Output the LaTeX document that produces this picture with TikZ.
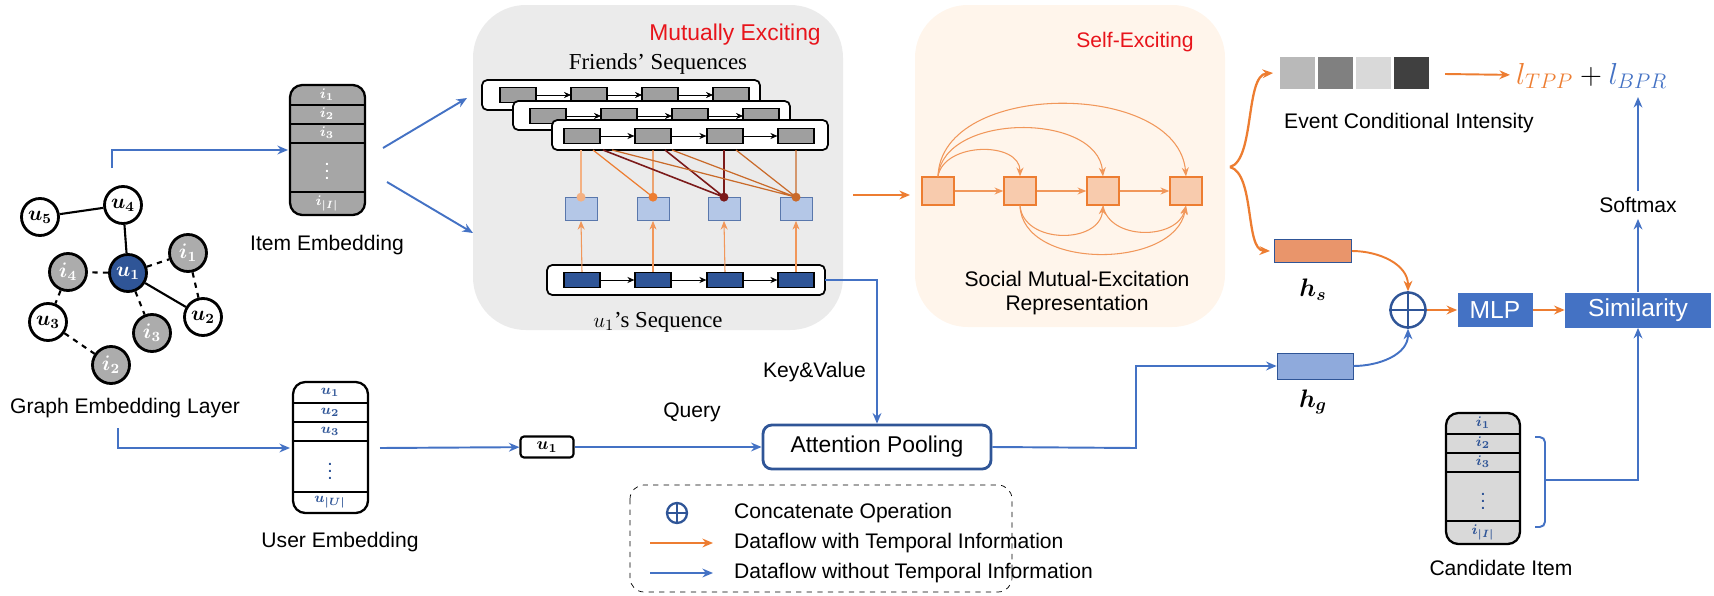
\documentclass[tikz,border=0pt]{standalone}
\usepackage{amsmath,bm}
\usepackage{fontspec}
\setmainfont{Liberation Sans}
\newfontfamily\timesf{Liberation Serif}
\usetikzlibrary{arrows.meta,decorations.pathreplacing,calc}
\definecolor{cblue}{HTML}{4472C4}
\definecolor{corange}{HTML}{ED7D31}
\definecolor{dblue}{HTML}{2F5597}
\definecolor{lblue}{HTML}{B4C7E7}
\definecolor{mblue}{HTML}{8FAADC}
\definecolor{lorange}{HTML}{F8CBAD}
\definecolor{hsfill}{HTML}{E9956B}
\definecolor{dred}{HTML}{7B1A1A}
\definecolor{titlered}{HTML}{E8141B}
\begin{document}
\begin{tikzpicture}[x=0.02cm,y=-0.02cm,
  lbl/.style={font=\fontsize{12}{14}\selectfont},
  times/.style={font=\fontsize{13}{15}\selectfont\timesf},
  gnode/.style={circle,draw,line width=1.6pt,minimum size=0.74cm,inner sep=0pt,font=\large},
  gwhite/.style={gnode,fill=white},
  ggray/.style={gnode,fill=gray!65,text=white},
  gblue/.style={gnode,fill=dblue,text=white},
  barr/.style={draw=cblue,line width=1.1pt,-{Stealth[length=6pt,width=5pt]}},
  oarr/.style={draw=corange,line width=1.1pt,-{Stealth[length=6pt,width=5pt]}},
  thin o/.style={draw=corange!80,line width=0.6pt,-{Stealth[length=5pt,width=4pt]}},
  seqbox/.style={draw,line width=1pt,rounded corners=3pt,fill=white},
  cell/.style={draw,line width=0.7pt,minimum width=0.72cm,minimum height=0.3cm,inner sep=0pt},
  lsq/.style={draw=dblue!80,fill=lblue,minimum width=0.64cm,minimum height=0.46cm,inner sep=0pt},
  osq/.style={draw=corange,line width=0.8pt,fill=lorange,minimum width=0.64cm,minimum height=0.56cm,inner sep=0pt},
  sarr/.style={line width=0.5pt,-{Stealth[length=4pt,width=3.5pt]}},
  rowtxt/.style={font=\footnotesize,inner sep=0pt}
]
\useasboundingbox (0,0) rectangle (1714,595);

% ---------- graph embedding layer
\node[gwhite] (u5) at (40,217) {$\bm{u_5}$};
\node[gwhite] (u4) at (123,205) {$\bm{u_4}$};
\node[gblue] (u1) at (128,273) {$\bm{u_1}$};
\node[ggray] (i1) at (188,253) {$\bm{i_1}$};
\node[ggray] (i4) at (68,272) {$\bm{i_4}$};
\node[gwhite] (u3) at (48,322) {$\bm{u_3}$};
\node[ggray] (i3) at (152,333) {$\bm{i_3}$};
\node[gwhite] (u2) at (203,317) {$\bm{u_2}$};
\node[ggray] (i2) at (111,365) {$\bm{i_2}$};
\draw[line width=1.2pt] (u5) -- (u4) (u4) -- (u1) (u1) -- (u2);
\draw[line width=1.2pt,dashed] (u1) -- (i1) (u1) -- (i4) (u1) -- (i3) (i1) -- (u2) (i4) -- (u3) (u3) -- (i2);
\node[lbl] (glabel) at (125,408) {Graph Embedding Layer};

% ---------- item embedding
\draw[line width=1.3pt,fill=gray!70,rounded corners=7pt] (290,85) rectangle (365,215);
\draw[line width=1.2pt] (290,105) -- (365,105) (290,124) -- (365,124) (290,143) -- (365,143) (290,192) -- (365,192);
\foreach \y/\t in {95/i_1,114/i_2,133/i_3,203/i_{|I|}} \node[rowtxt,text=white] at (327,\y) {$\bm{\t}$};
\node[rowtxt,text=white] at (327,166) {$\bm{\vdots}$};
\coordinate (itemin) at (288,150);
\coordinate (itemout1) at (383,148);
\coordinate (itemout2) at (387,182);
\node[lbl] (itemlbl) at (327,245) {Item Embedding};
\draw[barr] (112,168) |- (itemin);

% ---------- user embedding
\draw[line width=1.3pt,fill=white,rounded corners=7pt] (293,382) rectangle (368,513);
\draw[line width=1.2pt] (293,403) -- (368,403) (293,422) -- (368,422) (293,441) -- (368,441) (293,492) -- (368,492);
\foreach \y/\t in {392/u_1,412/u_2,431/u_3,502/u_{|U|}} \node[rowtxt,text=dblue] at (330,\y) {$\bm{\t}$};
\node[rowtxt,text=dblue] at (330,466) {$\bm{\vdots}$};
\node[lbl] (userlbl) at (340,542) {User Embedding};
\coordinate (userin) at (290,448);
\draw[barr] (118,428) |- (userin);

\node[draw,line width=1.2pt,rounded corners=2pt,minimum width=1.06cm,minimum height=0.42cm,inner sep=0pt] (uq) at (547,447) {$\bm{u_1}$};
\draw[barr] (380,448) -- (uq);

% ---------- mutually exciting
\fill[gray!16,rounded corners=30pt] (473,5) rectangle (843,330);
\node[text=titlered,font=\fontsize{13}{15}\selectfont] (mtitle) at (735,35) {Mutually Exciting};
\node[times] (ftitle) at (658,64) {Friends’ Sequences};
\draw[seqbox] (482,80) rectangle (760,110);
\foreach \x in {500,571,642,713} \node[cell,fill=gray!75] at (\x+18,95) {};
\draw[sarr] (536,95) -- (571,95); \draw[sarr] (607,95) -- (642,95); \draw[sarr] (678,95) -- (713,95);
\draw[seqbox] (513,101) rectangle (790,130);
\foreach \x in {530,601,672,743} \node[cell,fill=gray!75] at (\x+18,116) {};
\draw[sarr] (566,116) -- (601,116); \draw[sarr] (637,116) -- (672,116); \draw[sarr] (708,116) -- (743,116);
\draw[seqbox] (552,120) rectangle (828,150);
\foreach \x/\n in {564/1,635/2,707/3,778/4} \node[cell,fill=gray!75] (f\n) at (\x+18,136) {};
\draw[sarr] (f1) -- (f2); \draw[sarr] (f2) -- (f3); \draw[sarr] (f3) -- (f4);

\foreach \x/\n in {581/1,653/2,724/3,796/4} \node[lsq] (l\n) at (\x,209) {};
\draw[seqbox] (547,265) rectangle (825,295);
\coordinate (seqout) at (825,280);
\foreach \x/\n in {564/1,635/2,707/3,778/4} \node[cell,fill=dblue,draw=black] (b\n) at (\x+18,280) {};
\draw[sarr] (b1) -- (b2); \draw[sarr] (b2) -- (b3); \draw[sarr] (b3) -- (b4);
\foreach \n in {1,...,4} \draw[thin o] (b\n.north) -- (l\n.south);
\node[times] (seqlbl) at (658,322) {$u_1$’s Sequence};

% attention lines
\draw[corange!60,line width=0.7pt] (581,150) -- (l1.north);
\draw[corange,line width=0.7pt] (653,150) -- (l2.north) (593,150) -- (l2.north);
\draw[dred,line width=0.9pt] (603,150) -- (l3.north) (665,150) -- (l3.north) (724,150) -- (l3.north);
\draw[corange!85!black,line width=0.7pt] (612,150) -- (l4.north) (672,150) -- (l4.north) (736,150) -- (l4.north) (796,150) -- (l4.north);
\fill[corange!60] (l1.north) circle (4.5);
\fill[corange] (l2.north) circle (4.5);
\fill[dred] (l3.north) circle (4.5);
\fill[corange!85!black] (l4.north) circle (4.5);

\draw[barr] (itemout1) -- (467,98);
\draw[barr] (itemout2) -- (473,233);

% ---------- self exciting
\fill[orange!8,rounded corners=30pt] (915,5) rectangle (1225,327);
\node[text=titlered,font=\fontsize{12}{14}\selectfont] (stitle) at (1135,42) {Self-Exciting};
\foreach \x/\n in {938/1,1020/2,1103/3,1186/4} \node[osq] (s\n) at (\x,191) {};
\draw[oarr,line width=1pt] (853,195) -- (910,195);
\begin{scope}[thin o]
\draw (s1) -- (s2); \draw (s2) -- (s3); \draw (s3) -- (s4);
\draw (s1.north) to[out=80,in=90,looseness=1.1] (s2.north);
\draw (s1.north) to[out=85,in=95,looseness=1] (s3.north);
\draw (s1.north) to[out=88,in=95,looseness=1] (s4.north);
\draw (s2.south) to[out=-85,in=-95,looseness=1.2] (s3.south);
\draw (s2.south) to[out=-88,in=-100,looseness=1] (s4.south);
\draw (s3.south) to[out=-80,in=-105,looseness=1.1] (s4.south);
\end{scope}
\node[lbl,align=center] (smlbl) at (1077,293) {Social Mutual-Excitation\\Representation};

% ---------- brace to outputs
\draw[corange,line width=1.3pt,-{Stealth[length=6pt,width=5pt]}] (1230,167) .. controls (1255,160) and (1245,75) .. (1273,73);
\draw[corange,line width=1.3pt,-{Stealth[length=6pt,width=5pt]}] (1230,167) .. controls (1255,174) and (1245,250) .. (1270,251);

\foreach \x/\c/\n in {1280/gray!55/1,1318/gray!100/2,1356/gray!30/3,1394/black!75/4} \fill[\c] (\x,57) rectangle ++(35,32);
\node[lbl] (evlbl) at (1409,123) {Event Conditional Intensity};
\node[font=\fontsize{17}{19}\selectfont,anchor=west] (loss) at (1510,76) {$\color{corange}l_{TPP}\color{black}+\color{cblue}l_{BPR}$};
\draw[oarr] (1445,74) -- (loss);

\node[draw=dblue,fill=hsfill,minimum width=1.54cm,minimum height=0.46cm,inner sep=0pt] (hs) at (1313,251) {};
\node[font=\Large] (hslbl) at (1313,290) {$\bm{h_s}$};
\node[draw=dblue,fill=mblue,minimum width=1.52cm,minimum height=0.52cm,inner sep=0pt] (hg) at (1315,366) {};
\node[font=\Large] (hglbl) at (1313,402) {$\bm{h_g}$};
\node[circle,draw=dblue,line width=1.4pt,minimum size=0.7cm,inner sep=0pt] (cat) at (1408,310) {};
\draw[dblue,line width=1.4pt] (cat.north) -- (cat.south) (cat.west) -- (cat.east);
\node[fill=cblue,text=white,font=\fontsize{14}{16}\selectfont,minimum width=1.5cm,minimum height=0.68cm,inner sep=0pt] (mlp) at (1495,310) {MLP};
\node[fill=cblue,text=white,font=\fontsize{14}{16}\selectfont,minimum width=2.92cm,minimum height=0.7cm,inner sep=0pt] (sim) at (1638,310) {Similarity};
\draw[oarr] (hs.east) to[out=0,in=90] (cat.north);
\draw[barr] (hg.east) to[out=0,in=-90] (cat.south);
\draw[oarr] (cat) -- (mlp);
\draw[oarr] (mlp) -- (sim);
\node[lbl] (softmax) at (1638,205) {Softmax};
\draw[barr] (sim) -- (softmax);
\draw[barr] (softmax) -- (1638,97);

% ---------- attention pooling
\node[draw=dblue,line width=1.6pt,rounded corners=5pt,minimum width=4.56cm,minimum height=0.88cm,font=\fontsize{13}{15}\selectfont] (attn) at (877,447) {Attention Pooling};
\draw[barr] (uq) -- (attn);
\node[lbl] (query) at (692,412) {Query};
\draw[barr] (seqout) -| (attn.north);
\node[lbl,anchor=east] (kv) at (872,372) {Key\&Value};
\draw[barr] (attn.east) -- (1136,448) |- (hg.west);

% ---------- candidate item
\draw[line width=1.3pt,fill=gray!30,rounded corners=7pt] (1446,413) rectangle (1520,544);
\draw[line width=1.2pt] (1446,434) -- (1520,434) (1446,453) -- (1520,453) (1446,472) -- (1520,472) (1446,521) -- (1520,521);
\foreach \y/\t in {423/i_1,443/i_2,462/i_3,532/i_{|I|}} \node[rowtxt,text=dblue] at (1483,\y) {$\bm{\t}$};
\node[rowtxt,text=dblue] at (1483,496) {$\bm{\vdots}$};
\node[lbl] (candlbl) at (1501,568) {Candidate Item};
\draw[cblue,line width=1.1pt,rounded corners=3pt] (1535,437) -- (1545,437) -- (1545,527) -- (1535,527);
\draw[barr] (1545,480) -- (1638,480) -- (sim.south);

% ---------- legend
\draw[dashed,rounded corners=8pt] (630,485) rectangle (1012,592);
\node[circle,draw=dblue,line width=1.3pt,minimum size=0.4cm,inner sep=0pt] (lcat) at (677,513) {};
\draw[dblue,line width=1.3pt] (lcat.north) -- (lcat.south) (lcat.west) -- (lcat.east);
\node[lbl,anchor=west] (l1t) at (728,513) {Concatenate Operation};
\node[lbl,anchor=west] (l2t) at (728,543) {Dataflow with Temporal Information};
\node[lbl,anchor=west] (l3t) at (728,573) {Dataflow without Temporal Information};
\draw[oarr] (650,543) -- (713,543);
\draw[barr] (650,573) -- (713,573);
\end{tikzpicture}
\end{document}
